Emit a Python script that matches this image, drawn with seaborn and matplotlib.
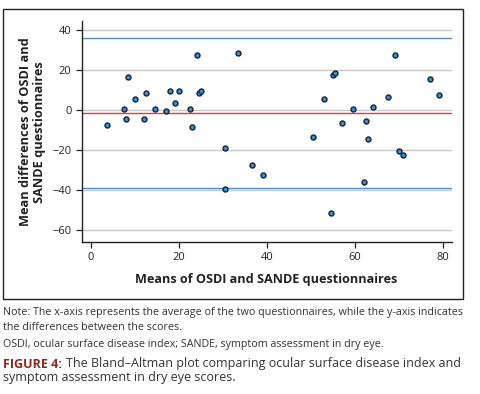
import numpy as np
import pandas as pd
import matplotlib
matplotlib.use("Agg")
import matplotlib.pyplot as plt
import seaborn as sns
from matplotlib.patches import Rectangle

# Data
means = [3.6, 7.6, 8.1, 8.5, 10.1, 12.0, 12.5, 14.5, 17.0, 18.0, 19.1, 20.0,
         22.6, 23.0, 24.0, 24.5, 25.0, 30.4, 30.4, 33.5, 36.5, 39.0, 50.5, 53.0,
         54.5, 55.0, 55.5, 57.0, 59.5, 62.0, 62.4, 63.0, 64.0, 67.4, 69.0, 70.0,
         70.9, 77.0, 79.0]
diffs = [-7.2, 0.7, -4.2, 16.7, 5.8, -4.2, 8.7, 0.8, -0.2, 9.7, 3.8, 9.8,
         0.7, -8.3, 27.8, 8.5, 9.7, -19.0, -39.2, 28.8, -27.2, -32.2, -13.2, 5.8,
         -51.3, 17.7, 18.8, -6.3, 0.7, -36.0, -5.2, -14.2, 1.7, 6.7, 27.8, -20.3,
         -22.3, 15.8, 7.8]
mean_diff = -1.5
upper_loa = 36.0
lower_loa = -38.7
xticks = [0, 20, 40, 60, 80]
yticks = [-60, -40, -20, 0, 20, 40]

df = pd.DataFrame({"mean": means, "diff": diffs})

sns.set_style("ticks")
plt.rcParams['font.family'] = ['Open Sans', 'DejaVu Sans']

fig = plt.figure(figsize=(4.8, 3.94), dpi=100)
ax = fig.add_axes([82/480, 1-242/394, 370/480, 221/394])

for y in yticks:
    ax.axhline(y, color="#c8c8c8", lw=1.0, zorder=0)
ax.axhline(upper_loa, color="#4a8fd4", lw=1.0, zorder=1)
ax.axhline(lower_loa, color="#4a8fd4", lw=1.0, zorder=1)
ax.axhline(mean_diff, color="#e0403a", lw=1.0, zorder=1)

sns.scatterplot(data=df, x="mean", y="diff", ax=ax, s=13, color="#3b8fd0",
                edgecolor="#1c2230", linewidth=1.0, zorder=3, legend=False)

ax.set_xlim(-2.0, 82.0)
ax.set_ylim(-65.8, 44.6)
ax.set_xticks(xticks)
ax.set_yticks(yticks)
ax.tick_params(axis="both", labelsize=8, colors="#222222", length=4, width=0.9)
ax.set_xlabel("")
ax.set_ylabel("")
sns.despine(ax=ax)
for s in ["left", "bottom"]:
    ax.spines[s].set_color("#222222")
    ax.spines[s].set_linewidth(1.0)

fig.text(266/480, 1-279/394, "Means of OSDI and SANDE questionnaires",
         ha="center", va="center", fontsize=9.1, fontweight="bold", color="#222222")
fig.text(33/480, 1-132/394, "Mean differences of OSDI and\nSANDE questionnaires",
         ha="center", va="center", rotation=90, fontsize=9.2, fontweight="bold",
         color="#222222", linespacing=1.1)

fig.patches.append(Rectangle((3/480, 1-299/394), 460/480, 290/394,
                             transform=fig.transFigure, fill=False,
                             edgecolor="#222222", lw=1.0))

cap_color = "#333333"
fs_note = 7.75
fig.text(3/480, 1-313/394,
         "Note: The x-axis represents the average of the two questionnaires, while the y-axis indicates",
         ha="left", va="center", fontsize=fs_note, color=cap_color)
fig.text(3/480, 1-327/394, "the differences between the scores.",
         ha="left", va="center", fontsize=fs_note, color=cap_color)
fig.text(3/480, 1-344/394,
         "OSDI, ocular surface disease index; SANDE, symptom assessment in dry eye.",
         ha="left", va="center", fontsize=fs_note, color=cap_color)
fs_cap = 9.0
fig.text(3/480, 1-364/394, "FIGURE 4:", ha="left", va="center", fontsize=fs_cap,
         fontweight="bold", color="#8a2a1a")
fig.text(66/480, 1-364/394,
         "The Bland\u2013Altman plot comparing ocular surface disease index and",
         ha="left", va="center", fontsize=fs_cap, color=cap_color)
fig.text(3/480, 1-378/394, "symptom assessment in dry eye scores.",
         ha="left", va="center", fontsize=fs_cap, color=cap_color)

fig.savefig("out.png", dpi=100)
